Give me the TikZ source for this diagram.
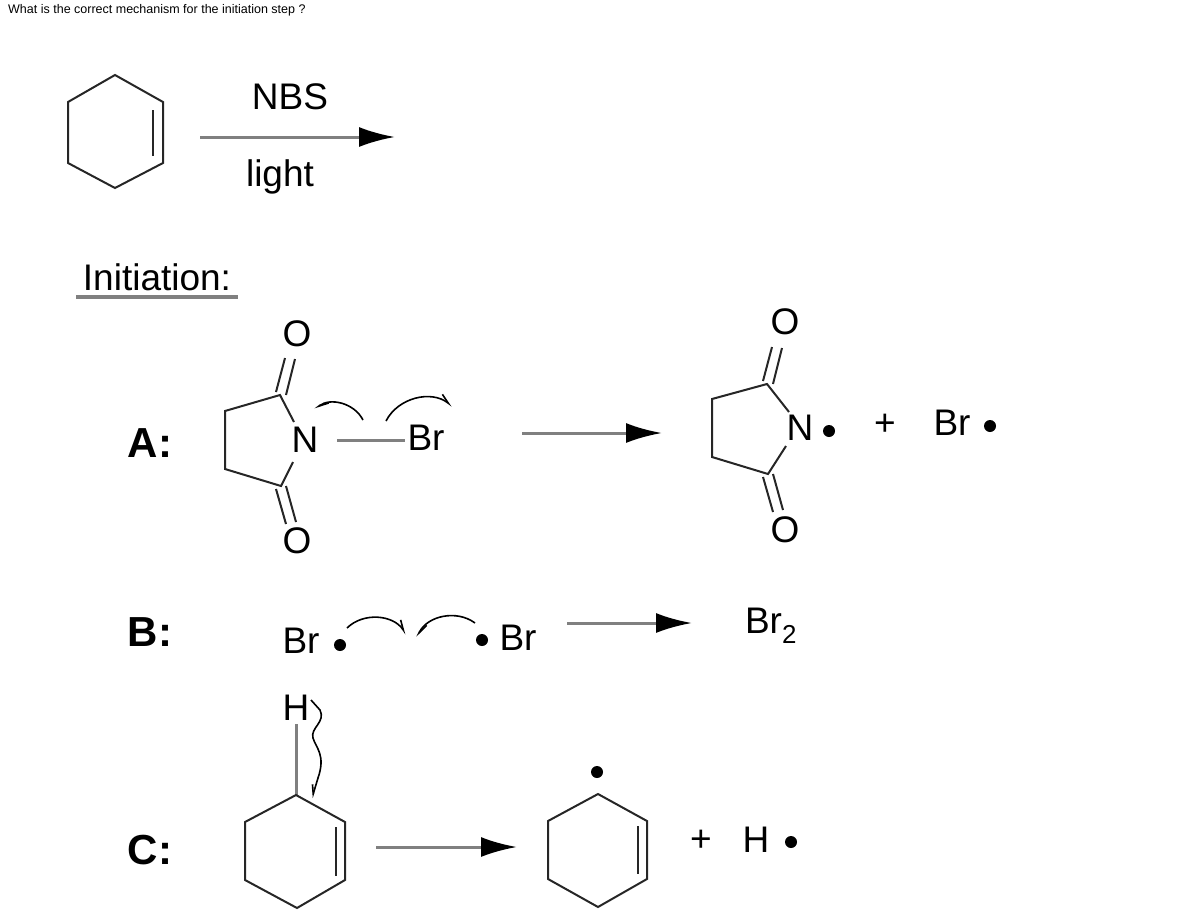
\documentclass[tikz,border=0pt]{standalone}
\usepackage{fontspec}
\setmainfont{Liberation Sans}
\usetikzlibrary{arrows.meta}
\begin{document}
\begin{tikzpicture}[x=1pt,y=-1pt,
  bond/.style={line width=2pt,black!85},
  gbond/.style={line width=3pt,black!50},
  rxn/.style={line width=3pt,black!50,-{Latex[length=36pt,width=20pt,black]}},
  lbl/.style={font=\fontsize{37}{37}\selectfont,inner sep=0pt},
  big/.style={font=\fontsize{42}{42}\selectfont\bfseries,inner sep=0pt},
  dot/.style={circle,fill=black,inner sep=0pt,minimum size=12pt},
  curly/.style={line width=1.6pt,-{Straight Barb[left,length=10pt,width=7pt]}}]
\useasboundingbox (0,0) rectangle (1193,921);
\node[anchor=north west,font=\fontsize{12.5}{12.5}\selectfont,inner sep=0pt] (q) at (8,4) {What is the correct mechanism for the initiation step ?};
% top cyclohexene
\draw[bond] (115,75)--(163,102)--(163,163)--(115,188)--(68,163)--(68,102)--cycle;
\draw[bond] (153,110)--(153,156);
\coordinate (t1) at (200,137); \coordinate (t2) at (395,137);
\draw[rxn] (t1)--(t2);
\node[lbl] (nbs) at (290,97) {NBS};
\node[lbl] (light) at (280,177) {light};
\node[lbl] (init) at (157,277) {Initiation:};
\draw[gbond,line width=3.5pt] (76,297)--(238,297);
% A
\node[big] (A) at (150,443) {A:};
\node[lbl] (N) at (305,440) {N};
\node[lbl] (O1) at (297,334) {O};
\node[lbl] (O2) at (297,541) {O};
\node[lbl] (Br1) at (426,438) {Br};
\draw[bond] (294,422) -- (280,395) -- (225,411) -- (225,469) -- (281,486) -- (293,462);
\draw[bond] (276,392)--(285,358); \draw[bond] (286,395)--(295,359);
\draw[bond] (276,489)--(286,524); \draw[bond] (286,486)--(296,522);
\draw[gbond] (337,440)--(405,440);
\draw[curly] (363,420) to[bend right=50] (315,409);
\draw[curly] (386,421) to[bend left=50] (452,406);
\coordinate (a1) at (522,433); \coordinate (a2) at (662,433);
\draw[rxn] (a1)--(a2);
% A product
\node[lbl] (N2) at (800,428) {N};
\node[dot] (d1) at (829,431) {};
\node[lbl] (O3) at (785,322) {O};
\node[lbl] (O4) at (785,530) {O};
\draw[bond] (789,412) -- (767,384) -- (712,399) -- (712,457) -- (768,474) -- (786,446);
\draw[bond] (763,381)--(772,347); \draw[bond] (773,384)--(782,348);
\draw[bond] (763,477)--(773,512); \draw[bond] (773,474)--(783,510);
\node[lbl] (p1) at (885,425) {+};
\node[lbl] (Br2) at (952,423) {Br};
\node[dot] (d2) at (990,426) {};
% B
\node[big] (B) at (150,632) {B:};
\node[lbl] (Br3) at (301,641) {Br};
\node[dot] (d3) at (340,645) {};
\draw[curly] (347,628) to[bend left=50] (406,634);
\draw[curly] (475,623) to[bend right=50] (417,637);
\node[dot] (d4) at (482,640) {};
\node[lbl] (Br4) at (518,638) {Br};
\coordinate (b1) at (567,623); \coordinate (b2) at (692,623);
\draw[rxn] (b1)--(b2);
\node[lbl] (Br5) at (771,626) {Br\textsubscript{2}};
% C
\node[big] (C) at (150,850) {C:};
\node[lbl] (H) at (296,708) {H};
\draw[gbond] (296,724)--(296,795);
\draw[bond] (296,795)--(345,822)--(345,880)--(297,908)--(245,880)--(245,822)--cycle;
\draw[bond] (336,827)--(336,876);
\draw[line width=1.6pt] (311,700)--(320,710) .. controls (326,722) and (310,728) .. (313,738) .. controls (316,748) and (326,755) .. (318,778);
\draw[line width=1.6pt,-{Straight Barb[right,length=9pt,width=7pt]}] (318,778)--(312,798);
\coordinate (c1) at (376,847); \coordinate (c2) at (517,847);
\draw[rxn] (c1)--(c2);
\draw[bond] (598,794)--(647,821)--(647,879)--(598,907)--(548,879)--(548,821)--cycle;
\draw[bond] (638,826)--(638,874);
\node[dot] (d5) at (597,772) {};
\node[lbl] (p2) at (701,841) {+};
\node[lbl] (H2) at (756,840) {H};
\node[dot] (d6) at (791,842) {};
\end{tikzpicture}
\end{document}
